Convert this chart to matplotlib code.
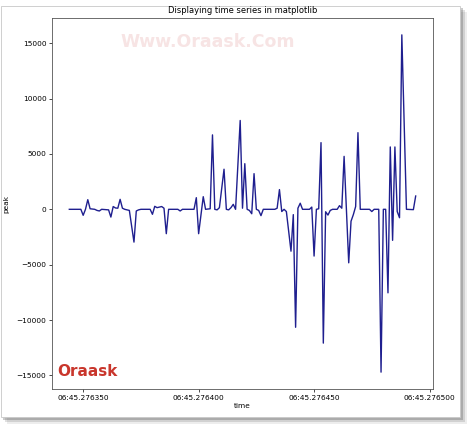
import numpy as np
import matplotlib
matplotlib.use('Agg')
import matplotlib.pyplot as plt
from matplotlib.ticker import MultipleLocator, FuncFormatter
from matplotlib.patches import Rectangle

# time offsets in microseconds after 06:45.276300, and the peak values
usec = [44, 49, 50, 51, 52, 53, 55, 56, 57, 58, 61, 62, 63, 64, 65, 66, 67, 68,
        70, 72, 73, 74, 75, 79, 80, 81, 82, 83, 84, 85, 86, 87, 91, 92, 93, 98,
        99, 100, 102, 103, 105, 106, 107, 108, 109, 111, 112, 113, 114, 115, 116,
        118, 119, 120, 121, 122, 123, 124, 125, 126, 127, 128, 133, 134, 135, 136,
        137, 138, 140, 141, 142, 143, 144, 145, 148, 149, 150, 151, 152, 153, 154,
        155, 156, 157, 158, 160, 161, 162, 163, 165, 166, 167, 168, 169, 170, 174,
        175, 176, 178, 179, 180, 181, 182, 183, 184, 185, 186, 187, 188, 190, 193,
        194]
peak = [0, 0, -540, 0, 870, 50, 0, -100, -150, 0, -50, -700, 250, 120, 100, 900, 100, 0,
        -100, -2960, -150, -50, 0, 0, -450, 270, 150, 200, 250, 100, -2200, 0, 0, -150, 0, 0,
        1050, -2200, 1140, 0, 50, 6720, 0, -50, 150, 3620, 0, -50, 150, 450, 0,
        8020, 100, 4120, 0, -100, -400, 3220, 0, -100, -570, 0, 0, 100, 1780, -200,
        0, -200, -3780, -480, -10650, 100, 550, 0, 0, 200, -4220, 0, 50, 6020, -12080,
        -220, -520, -100, 0, 0, 330, 100, 4780, -4830, -1075, -480, 250, 6920, 0, 0,
        -200, 0, 0, -14700, 0, 0, -7540, 5630, -2800, 5630, -200, -760, 15750, 0, -30,
        1200]
base_us = 276300  # microseconds part of 06:45.276300

W, H = 474, 429
fig = plt.figure(figsize=(W / 100, H / 100), dpi=100)

# screenshot frame with soft shadow
for off, a in [(7, 0.10), (5, 0.18), (3, 0.30)]:
    fig.patches.append(Rectangle((off / W, 1 - (417 + off) / H), 460 / W, 412 / H,
                                 transform=fig.transFigure, facecolor='#555555',
                                 edgecolor='none', alpha=a, zorder=-3))
fig.patches.append(Rectangle((1 / W, 1 - 417 / H), 459 / W, 411 / H,
                             transform=fig.transFigure, facecolor='white',
                             edgecolor='#c8c8c8', lw=0.6, zorder=-2))

ax = fig.add_axes([52 / W, 1 - 389 / H, (433 - 52) / W, (389 - 18) / H])
ax.plot(usec, peak, color='#1f1f8f', lw=1.0)

ax.xaxis.set_major_locator(MultipleLocator(50))
ax.xaxis.set_major_formatter(FuncFormatter(lambda v, p: '06:45.%06d' % (base_us + v)))

ax.set_title('Displaying time series in matplotlib', fontsize=6, pad=3.5)
ax.set_xlabel('time', fontsize=5.3, labelpad=2)
ax.set_ylabel('peak', fontsize=5.3, labelpad=5)
ax.tick_params(labelsize=5.3, length=2, width=0.5, pad=2)
for s in ax.spines.values():
    s.set_linewidth(0.6)
    s.set_color('#555555')

# watermarks
ax.text(0.41, 0.935, 'Www.Oraask.Com', transform=ax.transAxes, ha='center', va='center',
        fontsize=12.5, fontweight='bold', color='#f7e4e4', zorder=0)
ax.text(0.015, 0.048, 'Oraask', transform=ax.transAxes, ha='left', va='center',
        fontsize=11, color='#c9362c', fontweight='bold')

fig.savefig('out.png', dpi=100, facecolor='white')
